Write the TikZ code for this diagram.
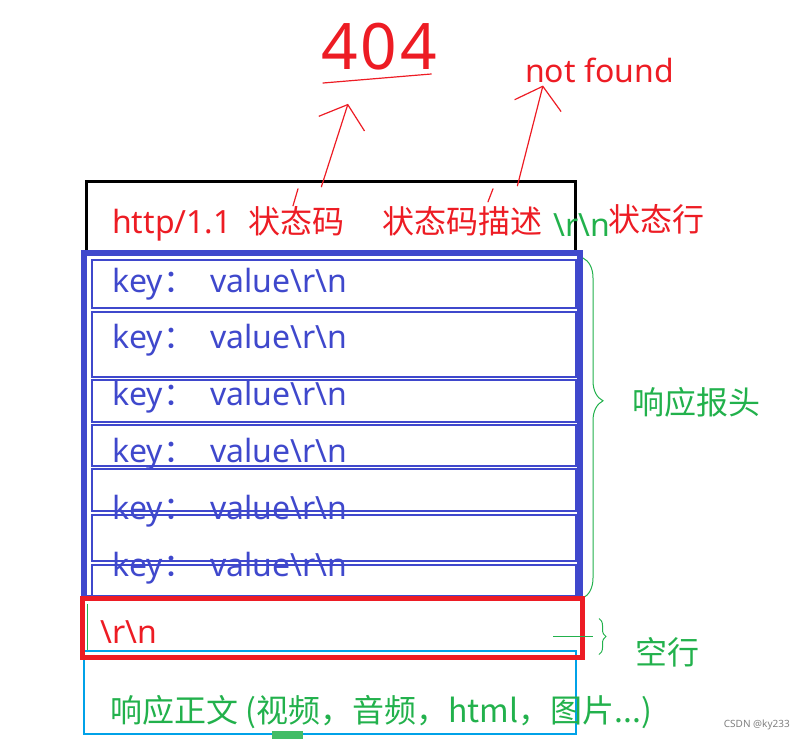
\documentclass[tikz,border=0pt]{standalone}
\usepackage{fontspec}
\usepackage{xcolor}
\usepackage{tikz}
\usetikzlibrary{arrows.meta, positioning, calc, decorations.pathreplacing}
\setmainfont{Noto Sans}
\newfontfamily\cjk{Noto Sans CJK SC}
\definecolor{pred}{RGB}{237,28,36}
\definecolor{pblue}{RGB}{63,72,204}
\definecolor{pgreen}{RGB}{34,177,76}
\definecolor{pcyan}{RGB}{0,162,232}
\newcommand{\bsl}{\textbackslash}
\newcommand{\kv}{key{\cjk ：}\hspace{15pt}value\bsl r\bsl n}

\begin{document}
\begin{tikzpicture}[x=1pt, y=-1pt]
\tikzstyle{box} = [rectangle, inner sep=0pt, outer sep=0pt]
\tikzstyle{row} = [box, draw=pblue, line width=2pt, minimum width=484pt]
\tikzstyle{txt} = [font=\fontsize{32}{38}\selectfont, inner sep=0pt, anchor=base west]
\tikzstyle{pen} = [pred, line width=1.2pt, line cap=round]
\tikzstyle{arrow} = [pen, -{Straight Barb[length=20pt, width=48pt]}]
\tikzstyle{brace} = [pgreen, line width=1pt, decorate]

\useasboundingbox (0,0) rectangle (801,739);

% Status line
\node[box, draw=black, line width=3pt, minimum width=489pt, minimum height=72pt] (status) at (330.5,217) {};
\node[txt, text=pred] (stat) at (112,233) {http/1.1 \hspace{8pt}{\cjk 状态码}};
\node[txt, text=pred] (desc) at (382,233) {\cjk 状态码描述};
\node[txt, text=pgreen] (crlf) at (553,236) {\bsl r\bsl n};
\node[txt, text=pred] (statlbl) at (608,231) {\cjk 状态行};

% Headers
\node[box, draw=pblue, line width=6pt, minimum width=496pt, minimum height=345pt] (header) at (332,425.5) {};
\node[row, minimum height=48pt] (row1) at (334,284) {};
\node[row, minimum height=65pt] (row2) at (334,344.5) {};
\node[row, minimum height=42pt] (row3) at (334,401) {};
\node[row, minimum height=41pt] (row4) at (334,445.5) {};
\node[row, minimum height=42pt] (row5) at (334,490) {};
\node[row, minimum height=46pt] (row6) at (334,538) {};
\node[row, minimum height=33pt] (row7) at (334,581.5) {};
\node[txt, text=pblue] (kv1) at (112,292) {\kv};
\node[txt, text=pblue] (kv2) at (112,348) {\kv};
\node[txt, text=pblue] (kv3) at (112,405) {\kv};
\node[txt, text=pblue] (kv4) at (112,462) {\kv};
\node[txt, text=pblue] (kv5) at (112,519) {\kv};
\node[txt, text=pblue] (kv6) at (112,576) {\kv};
\draw[brace, decoration={brace, amplitude=20pt, aspect=0.42}] ([xshift=3pt,yshift=-5pt]header.north east) -- ([xshift=3pt]header.south east);
\node[txt, text=pgreen] (hdrlbl) at (632,414) {\cjk 响应报头};

% Body
\node[box, draw=pcyan, line width=2pt, minimum width=492pt, minimum height=83pt] (body) at (330,692.5) {};
\node[txt, text=pgreen] (bodytxt) at (110,722) {\cjk 响应正文 (视频，音频，html，图片...)};
\fill[pgreen!85] (272,731) rectangle (303,739);

% Blank line
\node[box, draw=pred, line width=5pt, minimum width=500pt, minimum height=59pt] (blank) at (332,627.5) {};
\draw[pgreen, line width=1pt] ($(blank.north west)+(5,6)$) -- ($(blank.south west)+(5,-7)$);
\node[txt, text=pred] (blankcrlf) at (100,643) {\bsl r\bsl n};
\draw[pgreen, line width=1pt] ($(blank.east)+(-29,9)$) -- ++(40,0);
\draw[brace, decoration={brace, amplitude=7pt}] ($(blank.east)+(17,-9)$) -- ++(0,36);
\node[txt, text=pgreen] (blanklbl) at (635,664) {\cjk 空行};

% Notes
\node[inner sep=0pt, anchor=base west, text=pred, font=\fontsize{64}{70}\selectfont] (num) at (321,69) {4\hspace{3pt}0\hspace{3pt}4};
\draw[pen] ($(num.base west)+(2,14)$) -- ($(num.base east)+(-6,5)$);
\node[inner sep=0pt, anchor=base west, text=pred, font=\fontsize{32}{38}\selectfont] (nf) at (525,82) {not found};
\draw[arrow] ([xshift=-23pt,yshift=19pt]stat.north east) -- ([xshift=27pt,yshift=-34pt]num.south west);
\draw[arrow] ([xshift=-25pt,yshift=20pt]desc.north east) -- ([xshift=18pt,yshift=-3pt]nf.south west);
\draw[pen] ($(stat.north west)+(186,-17)$) -- ++(-5,17);
\draw[pen] ($(desc.north west)+(111,-17)$) -- ++(-5,13);
\node[inner sep=0pt, anchor=base east, text=gray, font=\fontsize{10}{12}\selectfont] (mark) at (790,727) {CSDN @ky233};
\end{tikzpicture}
\end{document}
